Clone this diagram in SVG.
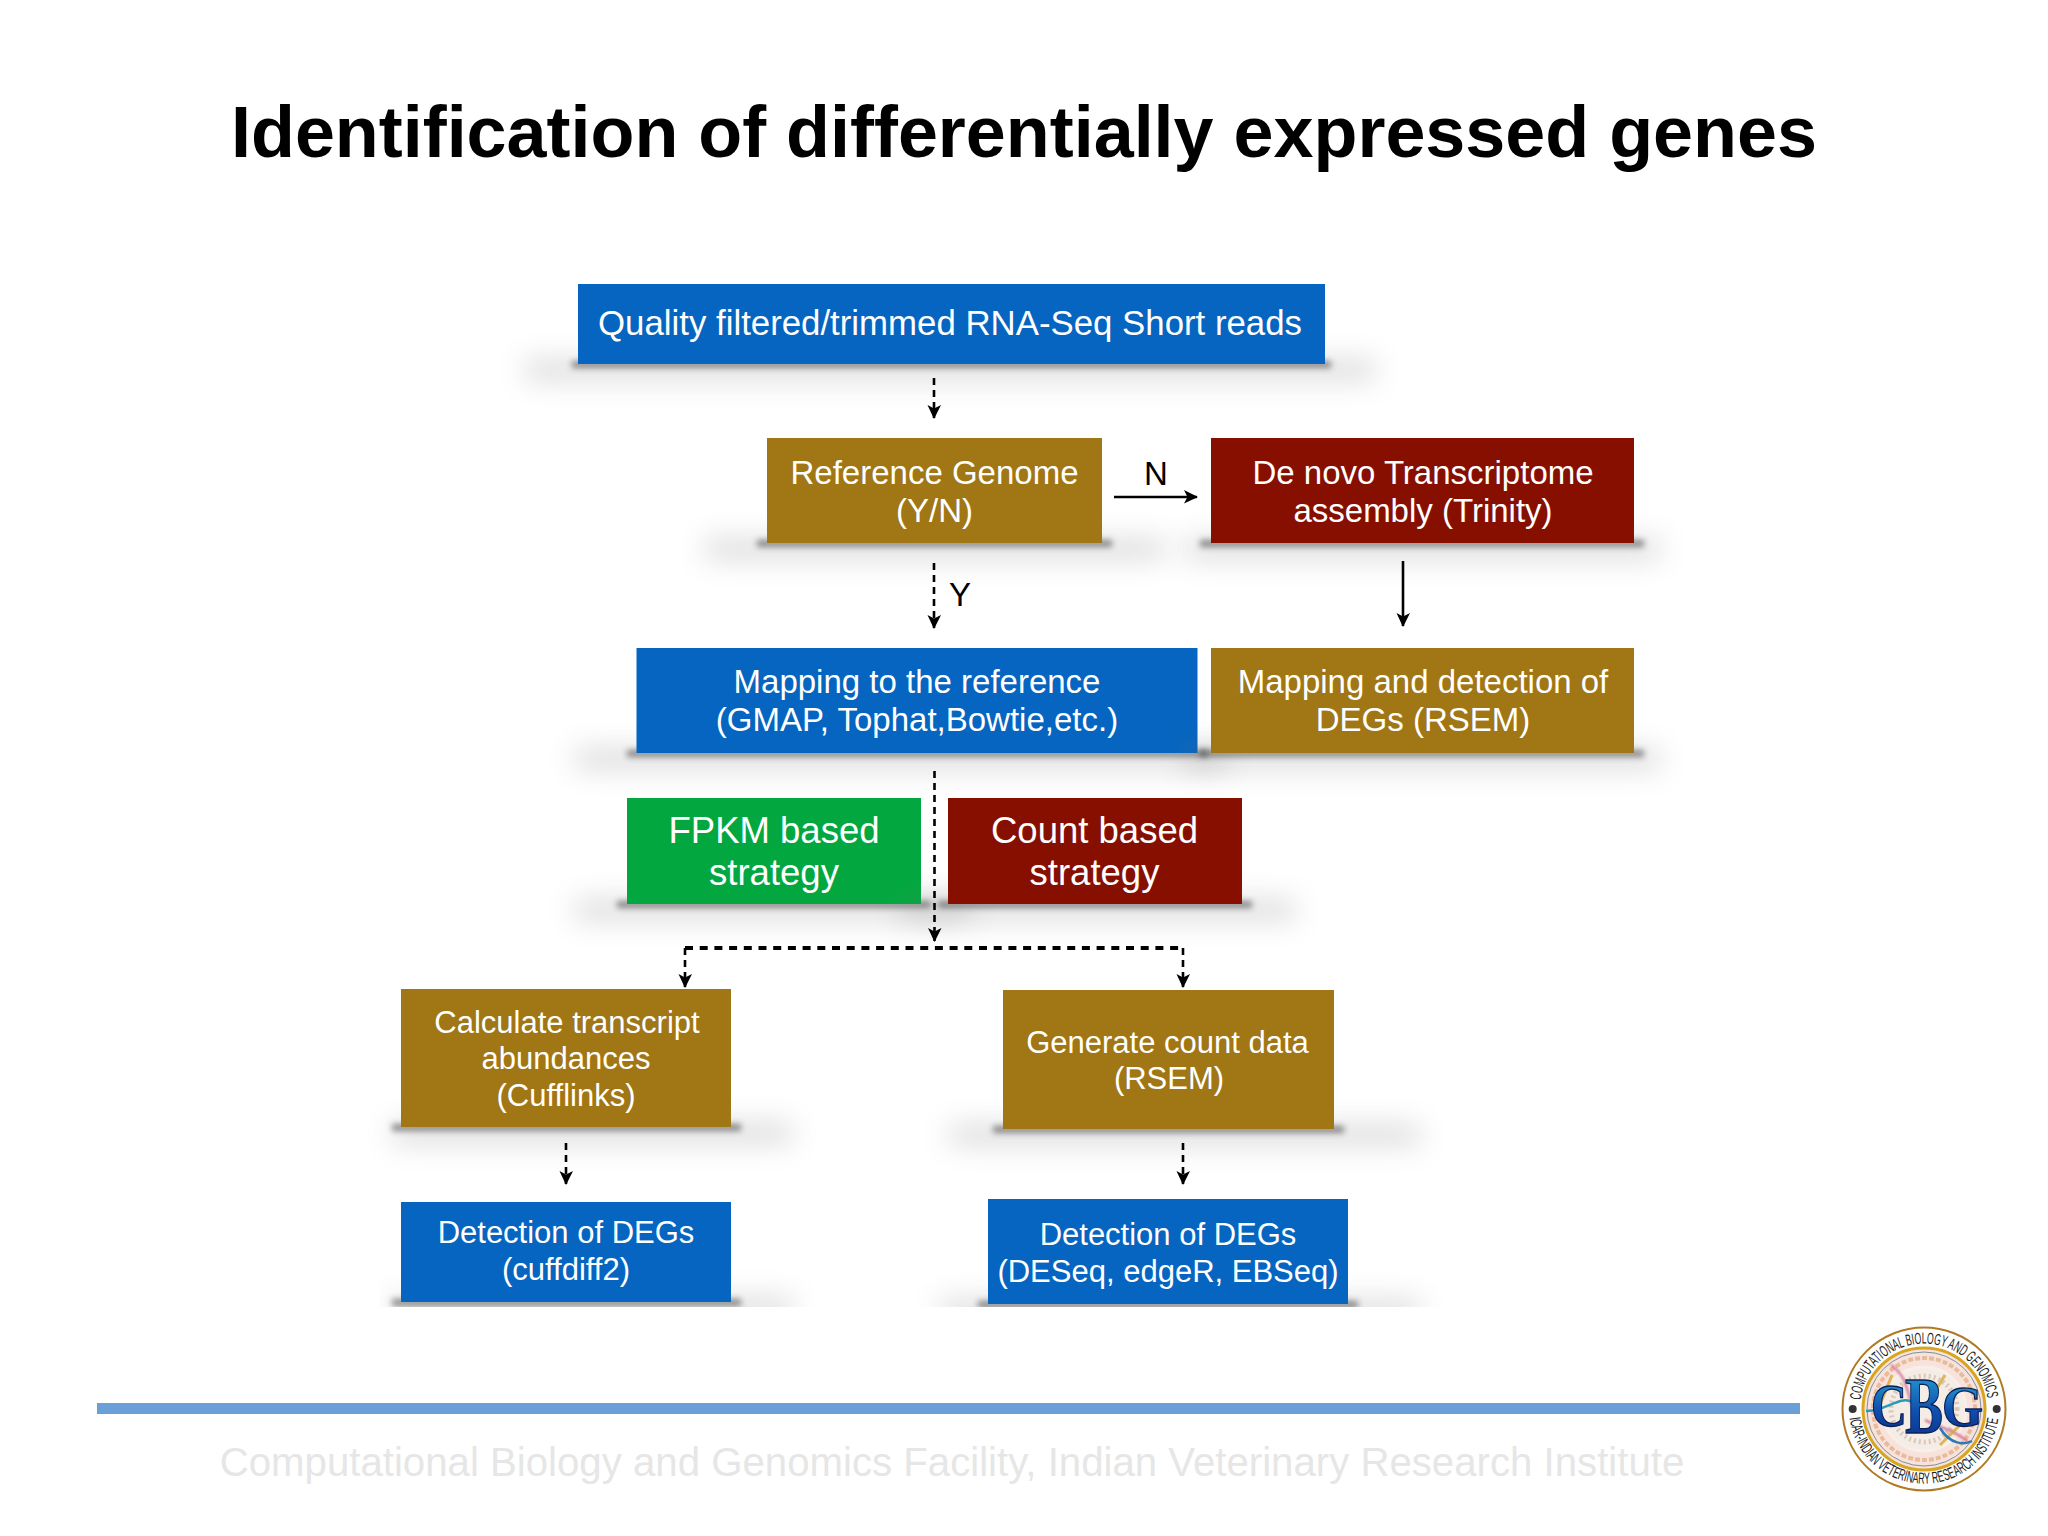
<svg xmlns="http://www.w3.org/2000/svg" width="2048" height="1536" viewBox="0 0 2048 1536">
<style>
text{font-family:"Liberation Sans",Arial,sans-serif}
.box{stroke:none}
.blue{fill:#0565c0}.gold{fill:#a17614}.red{fill:#870f00}.green{fill:#02a83f}
.t{fill:#fff;font-size:33px;text-anchor:middle}
.t2{fill:#fff;font-size:36.500px;text-anchor:middle}
.t3{fill:#fff;font-size:31px;text-anchor:middle}
.lab{fill:#000;font-size:33px;text-anchor:middle}
.sh1{fill:#333;opacity:.55;filter:url(#b1)}
.sh2{fill:#777;opacity:.27;filter:url(#b2)}
.dash{fill:none;stroke:#000;stroke-width:2.600;stroke-dasharray:7 5;marker-end:url(#ah)}
.solid{fill:none;stroke:#000;stroke-width:2.600;marker-end:url(#ah)}
.lt{font-size:16px;fill:#222}
.cbg{font-family:"Liberation Serif",serif;font-weight:bold;fill:url(#cg);stroke:#0b1f55;stroke-width:1.300}
</style>
<defs>
<filter id="b1" x="-20%" y="-300%" width="140%" height="700%"><feGaussianBlur stdDeviation="3"/></filter>
<filter id="b2" x="-30%" y="-300%" width="160%" height="700%"><feGaussianBlur stdDeviation="14"/></filter>
<filter id="b3" x="-20%" y="-20%" width="140%" height="140%"><feGaussianBlur stdDeviation=".8"/></filter>
<marker id="ah" markerUnits="userSpaceOnUse" markerWidth="16" markerHeight="14" refX="13" refY="7" orient="auto"><path d="M0 0L14 7L0 13.500L3.500 7Z" fill="#000"/></marker>
<linearGradient id="cg" x1="0" y1="0" x2="0" y2="1"><stop offset="0" stop-color="#27b0d8"/><stop offset=".55" stop-color="#1050b0"/><stop offset="1" stop-color="#0a2a80"/></linearGradient>
<clipPath id="lowClip"><rect x="380" y="1190" width="1080" height="117"/></clipPath>
<path id="arcTop" d="M1860.600 1400A64 64 0 1 1 1860.200 1405"/>
<path id="arcBot" d="M1849.600 1418A75 75 0 1 0 1849.100 1412"/>
</defs>
<rect width="2048" height="1536" fill="#fff"/>

<text id="title" x="1024" y="157" font-size="71.900" font-weight="bold" text-anchor="middle" fill="#000">Identification of differentially expressed genes</text>

<g id="n-reads">
<rect class="sh2" x="525" y="360" width="850" height="20"/><rect class="sh1" x="572" y="361" width="759" height="7"/>
<rect class="box blue" x="578" y="284" width="747" height="80"/>
<text class="t" style="font-size:34.800px" x="950" y="335">Quality filtered/trimmed RNA-Seq Short reads</text>
</g>
<g id="n-reference">
<rect class="sh2" x="705" y="539" width="460" height="20"/><rect class="sh1" x="757" y="540" width="355" height="7"/>
<rect class="box gold" x="767" y="438" width="335" height="105"/>
<text class="t" x="934.500" y="484">Reference Genome</text><text class="t" x="934.500" y="522">(Y/N)</text>
</g>
<g id="n-denovo">
<rect class="sh2" x="1185" y="539" width="475" height="20"/><rect class="sh1" x="1200" y="540" width="444" height="7"/>
<rect class="box red" x="1211" y="438" width="423" height="105"/>
<text class="t" x="1423" y="484">De novo Transcriptome</text><text class="t" x="1423" y="522">assembly (Trinity)</text>
</g>
<g id="n-mapping">
<rect class="sh2" x="575" y="749" width="650" height="20"/><rect class="sh1" x="627" y="750" width="580" height="7"/>
<rect class="box blue" x="636.500" y="648" width="561" height="105"/>
<text class="t" x="917" y="693">Mapping to the reference</text><text class="t" x="917" y="731">(GMAP, Tophat,Bowtie,etc.)</text>
</g>
<g id="n-mapdet">
<rect class="sh2" x="1185" y="749" width="475" height="20"/><rect class="sh1" x="1200" y="750" width="444" height="7"/>
<rect class="box gold" x="1211" y="648" width="423" height="105"/>
<text class="t" x="1423" y="693">Mapping and detection of</text><text class="t" x="1423" y="731">DEGs (RSEM)</text>
</g>
<g id="n-fpkm">
<rect class="sh2" x="575" y="900" width="395" height="20"/><rect class="sh1" x="617" y="901" width="314" height="7"/>
<rect class="box green" x="627" y="798" width="294" height="106"/>
<text class="t2" x="774" y="843">FPKM based</text><text class="t2" x="774" y="885">strategy</text>
</g>
<g id="n-count">
<rect class="sh2" x="900" y="900" width="395" height="20"/><rect class="sh1" x="938" y="901" width="314" height="7"/>
<rect class="box red" x="948" y="798" width="294" height="106"/>
<text class="t2" x="1094.500" y="843">Count based</text><text class="t2" x="1094.500" y="885">strategy</text>
</g>
<g id="n-calc">
<rect class="sh2" x="392" y="1123" width="400" height="20"/><rect class="sh1" x="392" y="1124" width="349" height="7"/>
<rect class="box gold" x="401" y="989" width="330" height="138"/>
<text class="t3" x="567" y="1033">Calculate transcript</text><text class="t3" x="566" y="1069">abundances</text><text class="t3" x="566" y="1106">(Cufflinks)</text>
</g>
<g id="n-gen">
<rect class="sh2" x="950" y="1125" width="470" height="20"/><rect class="sh1" x="993" y="1126" width="351" height="7"/>
<rect class="box gold" x="1003" y="990" width="331" height="139"/>
<text class="t3" x="1167.500" y="1053">Generate count data</text><text class="t3" x="1169" y="1089">(RSEM)</text>
</g>
<g id="n-det1">
<g clip-path="url(#lowClip)"><rect class="sh2" x="392" y="1298" width="400" height="20"/><rect class="sh1" x="392" y="1299" width="349" height="7"/></g>
<rect class="box blue" x="401" y="1202" width="330" height="100"/>
<text class="t3" x="566" y="1243">Detection of DEGs</text><text class="t3" x="566" y="1280">(cuffdiff2)</text>
</g>
<g id="n-det2">
<g clip-path="url(#lowClip)"><rect class="sh2" x="940" y="1300" width="480" height="20"/><rect class="sh1" x="978" y="1301" width="380" height="7"/></g>
<rect class="box blue" x="988" y="1199" width="360" height="105"/>
<text class="t3" x="1168" y="1245">Detection of DEGs</text><text class="t3" x="1168" y="1282">(DESeq, edgeR, EBSeq)</text>
</g>

<g id="connectors">
<path class="dash" d="M934 378V418"/>
<path class="dash" d="M934 563V628"/>
<path class="solid" d="M1114 497H1197"/>
<path class="solid" d="M1403 561V626"/>
<path class="dash" d="M934.500 771V941"/>
<path d="M685 948H1183" fill="none" stroke="#000" stroke-width="3.800" stroke-dasharray="8 6.700"/>
<path class="dash" d="M685 948V987"/>
<path class="dash" d="M1183 948V987"/>
<path class="dash" d="M566 1143V1184"/>
<path class="dash" d="M1183 1143V1184"/>
</g>
<text class="lab" x="960" y="606">Y</text>
<text class="lab" x="1156" y="485">N</text>

<rect id="footer-rule" x="97" y="1403" width="1703" height="11" fill="#6a9fd8"/>
<text id="footer" x="952" y="1476" font-size="40.200" text-anchor="middle" fill="#e6e6e6">Computational Biology and Genomics Facility, Indian Veterinary Research Institute</text>

<g id="logo">
<circle cx="1924" cy="1409" r="81.500" fill="#fff" stroke="#b07a25" stroke-width="2"/>
<circle cx="1924" cy="1409" r="61" fill="#f7e3dc" stroke="#d9a520" stroke-width="3"/>
<circle cx="1924" cy="1409" r="57" fill="none" stroke="#7f8f9a" stroke-width="1"/>
<circle cx="1924" cy="1409" r="51" fill="none" stroke="#e0a070" stroke-width="4" stroke-dasharray="5 2" opacity=".6"/>
<circle cx="1924" cy="1409" r="42" fill="#f4ede6" stroke="#f9eee8" stroke-width="3"/>
<circle cx="1924" cy="1409" r="33" fill="none" stroke="#b08070" stroke-width="5" stroke-dasharray="2 3" opacity=".35"/>
<text class="lt" textLength="184" lengthAdjust="spacingAndGlyphs"><textPath href="#arcTop">COMPUTATIONAL BIOLOGY AND GENOMICS</textPath></text>
<text class="lt" textLength="216" lengthAdjust="spacingAndGlyphs"><textPath href="#arcBot">ICAR-INDIAN VETERINARY RESEARCH INSTITUTE</textPath></text>
<circle cx="1852.700" cy="1409" r="4" fill="#333"/><circle cx="1996.700" cy="1409" r="4" fill="#333"/>
<path d="M1891 1365C1912 1380 1905 1400 1918 1415" fill="none" stroke="#d06a90" stroke-width="2" filter="url(#b3)"/>
<path d="M1925 1420C1940 1428 1955 1430 1968 1442" fill="none" stroke="#d06a90" stroke-width="2" filter="url(#b3)"/>
<path d="M1892 1375L1880 1405M1930 1400L1945 1375M1940 1445L1960 1425" fill="none" stroke="#d8a838" stroke-width="3" opacity=".8"/>
<path d="M1866 1411C1885 1412 1900 1395 1912 1402" fill="none" stroke="#2a9ab8" stroke-width="2.500"/>
<path d="M1940 1428C1950 1445 1965 1445 1972 1441" fill="none" stroke="#2a7ab8" stroke-width="2.500"/>
<text class="cbg" x="1871" y="1426" font-size="62" textLength="36" lengthAdjust="spacingAndGlyphs">C</text>
<text class="cbg" x="1905" y="1433" font-size="80" textLength="38" lengthAdjust="spacingAndGlyphs">B</text>
<text class="cbg" x="1942" y="1426" font-size="56" textLength="41" lengthAdjust="spacingAndGlyphs">G</text>
</g>
</svg>
